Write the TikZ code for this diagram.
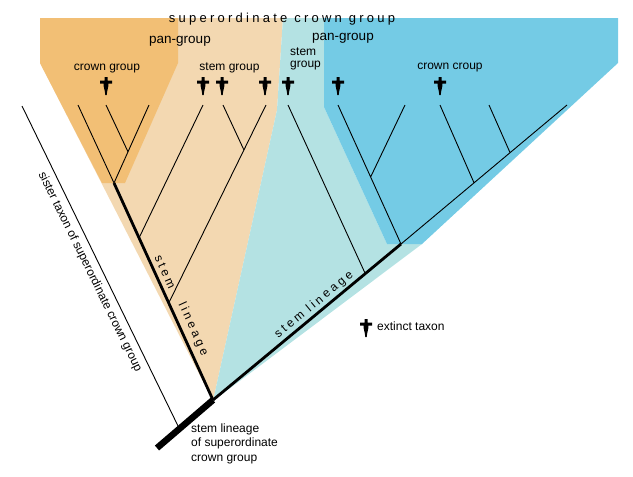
\documentclass[tikz,border=0pt]{standalone}
\usepackage{fontspec}
\setmainfont{Liberation Sans}
\newfontfamily\widefont[LetterSpace=25]{Liberation Sans}
\usetikzlibrary{calc}
\definecolor{crownorange}{HTML}{F2BF75}
\definecolor{stemorange}{HTML}{F3D8B1}
\definecolor{stemteal}{HTML}{B4E2E3}
\definecolor{crownblue}{HTML}{74CBE5}

\begin{document}
\begin{tikzpicture}[
    x=1pt, y=-1pt,
    branch/.style={line width=0.9pt},
    stemline/.style={line width=2.8pt},
    rootline/.style={line width=6.5pt},
    lbl/.style={font=\fontsize{12}{14.5}\selectfont, inner sep=0pt},
    panlbl/.style={font=\fontsize{13.5}{15}\selectfont, inner sep=0pt, anchor=base},
    widelbl/.style={font=\fontsize{12}{14}\selectfont\widefont, inner sep=0pt},
    extinct/.pic={
      \fill (-1.5,-9) -- (1.5,-9) -- (1.5,-5.5) -- (6,-5.5) -- (6,-2.5) -- (2.5,-2.5)
        .. controls (2.5,2) and (1,4) .. (0.7,9) -- (-0.7,9)
        .. controls (-1,4) and (-2.5,2) .. (-2.5,-2.5) -- (-6,-2.5) -- (-6,-5.5)
        -- (-1.5,-5.5) -- cycle;
    }
  ]
  \useasboundingbox (0,0) rectangle (633,477);

  % coloured groups
  \fill[stemorange]  (40,18) -- (283,18) -- (277,110) -- (213,401) -- (40,63) -- cycle;
  \fill[crownorange] (40,18) -- (178,18) -- (178,63) -- (125,183) -- (102,183) -- (40,63) -- cycle;
  \fill[stemteal]    (283,18) -- (324,18) -- (324,107) -- (387,244) -- (422,244) -- (213,401) -- (277,110) -- cycle;
  \fill[crownblue]   (324,18) -- (618,18) -- (618,63) -- (422,244) -- (387,244) -- (324,107) -- cycle;

  \coordinate (root)   at (213,400);
  \coordinate (base)   at (157,448);
  \coordinate (ocrown) at (114,183);
  \coordinate (bcrown) at (401,244);
  \coordinate (sistertip) at (22,106);

  \coordinate (o1) at (78,105);
  \coordinate (o2) at (106,105);
  \coordinate (o3) at (149,105);
  \coordinate (s1) at (203,105);
  \coordinate (s2) at (223,105);
  \coordinate (s3) at (266,105);
  \coordinate (s4) at (288,105);
  \coordinate (b1) at (338,105);
  \coordinate (b2) at (405,105);
  \coordinate (b3) at (440,105);
  \coordinate (b4) at (489,105);
  \coordinate (b5) at (567,105);

  \coordinate (oj)  at ($(o3)!0.6!(ocrown)$);
  \coordinate (sj1) at ($(ocrown)!0.253!(root)$);
  \coordinate (sj2) at ($(ocrown)!0.553!(root)$);
  \coordinate (sj3) at ($(s3)!0.227!(sj2)$);
  \coordinate (tj)  at ($(root)!0.81!(bcrown)$);
  \coordinate (bj1) at ($(b1)!0.518!(bcrown)$);
  \coordinate (bj2) at ($(bcrown)!0.44!(b5)$);
  \coordinate (bj3) at ($(bcrown)!0.657!(b5)$);
  \coordinate (sisterend) at ($(root)!0.6!(base)$);

  % tree
  \draw[branch] (o1) -- (ocrown) (o3) -- (ocrown) (o2) -- (oj);
  \draw[branch] (s1) -- (sj1) (s3) -- (sj2) (s2) -- (sj3) (s4) -- (tj);
  \draw[branch] (b1) -- (bcrown) (b2) -- (bj1) (bcrown) -- (b5) (b3) -- (bj2) (b4) -- (bj3);
  \draw[branch] (sistertip) -- (sisterend);
  \draw[stemline] (ocrown) -- (root);
  \draw[stemline] (root) -- (bcrown);
  \draw[rootline] (root) -- (base);

  \pic at (106,86) {extinct};
  \pic at (203,86) {extinct};
  \pic at (222,86) {extinct};
  \pic at (265,86) {extinct};
  \pic at (288,86) {extinct};
  \pic at (338,86) {extinct};
  \pic at (440,86) {extinct};
  \pic at (366,328) {extinct};

  % labels
  \node[widelbl, font=\fontsize{13}{15}\selectfont\widefont, anchor=base] (supername) at (282,22.7) {superordinate crown group};
  \node[panlbl] (opan) at (180,43.3) {pan-group};
  \node[panlbl] (bpan) at (343,40) {pan-group};
  \node[lbl, anchor=base] (ocrownname) at (107,70) {crown group};
  \node[lbl, anchor=base] (ostemname)  at (229.5,70) {stem group};
  \node[lbl, anchor=north west, align=left, font=\fontsize{12}{11.8}\selectfont] (tstemname) at (290,48) {stem\\group};
  \node[lbl, anchor=base] (bcrownname) at (450,69.5) {crown croup};
  \node[lbl, anchor=base west] (legend) at (377,330.7) {extinct taxon};
  \node[lbl, anchor=north west, align=left] (rootname) at (191,423.4) {stem lineage\\of superordinate\\crown group};
  \node[lbl, rotate=-63.8] (sistername) at (90,272) {sister taxon of superordinate crown group};
  \node[widelbl, rotate=-65.5] (ostem) at (165,272) {stem};
  \node[widelbl, rotate=-65.5] (olineage) at (193,329) {lineage};
  \node[widelbl, rotate=39.7] (bstem) at (314,305) {stem lineage};
\end{tikzpicture}
\end{document}
